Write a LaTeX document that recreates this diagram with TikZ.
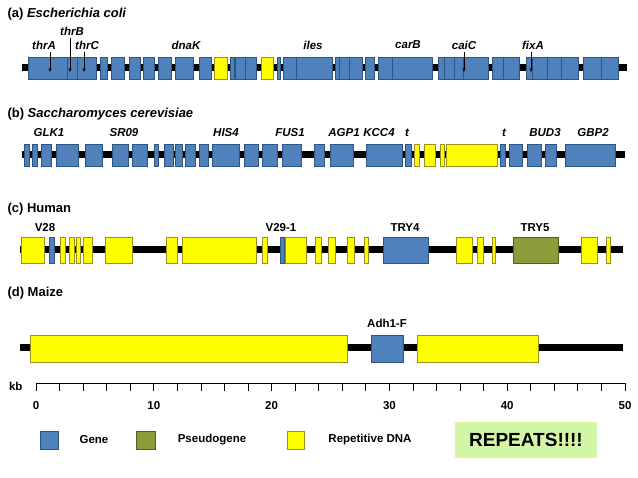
\documentclass[tikz,border=0pt]{standalone}
\usepackage{fontspec}
\setmainfont{Liberation Sans}
\usetikzlibrary{arrows.meta}
\definecolor{gblue}{HTML}{4F81BD}
\definecolor{gblueD}{HTML}{2E5480}
\definecolor{olive}{HTML}{8E9B3A}
\definecolor{ylw}{HTML}{FFFF00}
\definecolor{ylwD}{HTML}{9A9020}
\definecolor{rep}{HTML}{D4F5A6}
\begin{document}
\begin{tikzpicture}[x=1pt,y=-1pt,
  gene/.style={fill=gblue,draw=gblueD,line width=0.6pt},
  rpt/.style={fill=ylw,draw=ylwD,line width=0.6pt},
  pseudo/.style={fill=olive,draw=olive!60!black,line width=0.6pt},
  chrom/.style={line width=7pt,black},
  ttl/.style={font=\bfseries\fontsize{13}{14}\selectfont,anchor=west},
  lab/.style={font=\bfseries\itshape\fontsize{11.5}{12}\selectfont},
  labu/.style={font=\bfseries\fontsize{11.5}{12}\selectfont},
  arr/.style={-{Stealth[length=4pt,width=3pt]},line width=0.6pt}]
\useasboundingbox (0,0) rectangle (638,478);
% ---------- (a)
\node[ttl] (ta) at (4,14) {(a) \textit{Escherichia coli}};
\draw[chrom] (22,68) -- (627,68);
\foreach \a/\b in {28/96,100/107,111/124,129/140,143/154,158/171,175/193,199/211,230/234,235/256,277/280,283/332,335/362,365/374,378/432,438/488,492/519,526/578,583/618}
  \draw[gene] (\a,57) rectangle (\b,79);
\foreach \a/\b in {214/227,261/273} \draw[rpt] (\a,57) rectangle (\b,79);
\foreach \x in {67,77,245,296,339,349,392,444,454,463,503,532,547,561,601}
  \draw[gblueD,line width=0.5pt] (\x,57) -- (\x,79);
\node[lab] (thrA) at (44,45) {thrA};
\node[lab] (thrB) at (72,31) {thrB};
\node[lab] (thrC) at (87,45) {thrC};
\node[lab] (dnaK) at (186,45) {dnaK};
\node[lab] (iles) at (313,45) {iles};
\node[lab] (carB) at (408,45) {carB};
\node[lab] (caiC) at (464,45) {caiC};
\node[lab] (fixA) at (533,45) {fixA};
\coordinate (pA) at (50,72); \coordinate (pB) at (70,72); \coordinate (pC) at (84,72);
\coordinate (pD) at (464,72); \coordinate (pE) at (531,72);
\draw[arr] (50,52) -- (pA);
\draw[arr] (70,38) -- (pB);
\draw[arr] (84,52) -- (pC);
\draw[arr] (464,52) -- (pD);
\draw[arr] (531,52) -- (pE);
% ---------- (b)
\node[ttl] (tb) at (4,114) {(b) \textit{Saccharomyces cerevisiae}};
\draw[chrom] (22,155) -- (625,155);
\foreach \a/\b in {24/29,32/37,41/51,56/78,85/102,112/128,132/147,154/158,164/173,175/182,185/195,199/208,212/239,244/258,262/277,282/301,314/324,330/353,366/402,405/411,500/505,509/522,527/541,545/556,565/615}
  \draw[gene] (\a,144) rectangle (\b,166);
\foreach \a/\b in {414/419,424/435,440/444,446/497} \draw[rpt] (\a,144) rectangle (\b,166);
\foreach \l/\x in {GLK1/49,SR09/124,HIS4/226,FUS1/290,AGP1/344,KCC4/379,t/407,t/504,BUD3/545,GBP2/593}
  \node[lab] at (\x,133) {\l};
% ---------- (c)
\node[ttl] (tc) at (4,209) {(c) Human};
\draw[chrom] (20,250) -- (623,250);
\foreach \a/\b in {21/44,60/65,69/74,76/80,83/92,105/132,166/177,182/256,262/267,285/306,315/321,328/335,347/354,364/368,456/472,477/483,492/495,581/597,606/610}
  \draw[rpt] (\a,237) rectangle (\b,263);
\foreach \a/\b in {49/54,280/284,383/428} \draw[gene] (\a,237) rectangle (\b,263);
\draw[pseudo] (513,237) rectangle (558,263);
\node[labu] (v28) at (45,228) {V28};
\node[labu] (v29) at (281,228) {V29-1};
\node[labu] (try4) at (405,228) {TRY4};
\node[labu] (try5) at (535,228) {TRY5};
% ---------- (d)
\node[ttl] (td) at (4,293) {(d) Maize};
\draw[chrom] (20,348) -- (623,348);
\draw[rpt] (30,335) rectangle (347,362);
\draw[gene] (371,335) rectangle (403,362);
\draw[rpt] (417,335) rectangle (538,362);
\node[labu] (adh) at (387,323) {Adh1-F};
% ---------- axis
\node[labu,anchor=east] (kb) at (26,386) {kb};
\draw[line width=0.8pt] (36,383) -- (625,383);
\foreach \i in {0,...,25} \draw[line width=0.8pt] ({36+\i*23.56},383) -- ({36+\i*23.56},391);
\foreach \v in {0,10,20,30,40,50} \node[labu] at ({36+\v*11.78},406) {\v};
% ---------- legend
\draw[gene] (40,431) rectangle (58,449); \node[labu] (lg) at (94,440) {Gene};
\draw[pseudo] (136,431) rectangle (155,449); \node[labu] (lp) at (212,440) {Pseudogene};
\draw[rpt] (287,431) rectangle (304,449); \node[labu] (lr) at (370,440) {Repetitive DNA};
\node[fill=rep,minimum width=142pt,minimum height=36pt,font=\bfseries\fontsize{19}{20}\selectfont] (rp) at (526,440) {REPEATS!!!!};
\end{tikzpicture}
\end{document}
